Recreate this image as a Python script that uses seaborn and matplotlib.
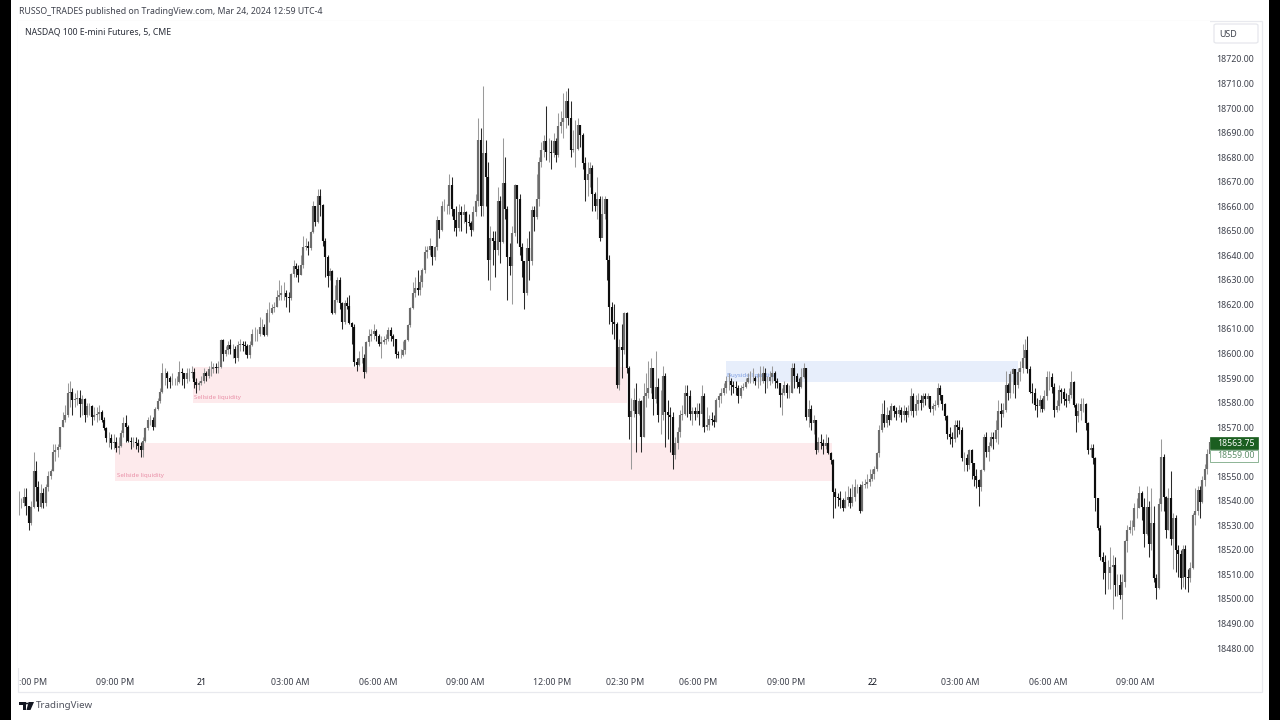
import numpy as np, pandas as pd
import matplotlib
matplotlib.use("Agg")
import matplotlib.pyplot as plt
import seaborn as sns
from matplotlib.patches import Rectangle, Polygon, FancyBboxPatch, Circle

closes = [
18539,18539,18541.5,18538,18531,18537.5,18552,18545.5,18537.5,18543,
18539,18545.5,18550,18552,18560,18560.5,18562,18570,18573,18575,
18584,18584.5,18581,18581.5,18582,18579.5,18581.5,18575,18578.5,18578.5,
18574,18575,18575.5,18576,18573,18569.5,18565.5,18565.5,18563.5,18564,
18561.5,18562.5,18567.5,18571.5,18570,18564.5,18564,18564,18563.5,18562.5,18560.5,
18564.5,18569.5,18573,18573,18570,18577.5,18580.5,18584.5,18592,18592,
18590,18588.5,18588.5,18588.5,18588.5,18592.5,18592,18589.5,18592,18592,
18592.5,18588.5,18587,18588,18589,18592,18591,18593.5,18593.5,18594.5,
18594,18594.5,18605.5,18600,18601.5,18603.5,18602,18602,18598,18603.5,
18604,18603.5,18603,18599.5,18603.5,18608,18608,18608,18611,18611,18607.5,
18616.5,18616.5,18618.5,18619,18623,18624,18624.5,18624.5,18623,18622.5,
18632.5,18635.5,18634.5,18632,18636,18643.5,18644,18643,18649.5,18660,
18653.5,18664,18660.5,18646,18639.5,18631.5,18633.5,18616.5,18622,18630,
18620.5,18613,18620.5,18619.5,18612.5,18611,18596.5,18595.5,18598,18598,
18592.5,18604.5,18607,18608,18609,18607,18604,18604.5,18605.5,18606,
18609.5,18607,18606,18600,18599.5,18599.5,18601.5,18605.5,18611.5,18618.5,
18624.5,18626.5,18626,18629,18634,18641.5,18642,18644,18639.5,18643.5,
18654.5,18650.5,18660,18660,18660,18668.5,18659,18654.5,18651,18657.5,
18656.5,18657.5,18653.5,18653,18650.5,18657.5,18662,18687,18660,18681.5,
18672,18638,18647,18646,18642,18662,18645.5,18669.5,18659,18639.5,
18635.5,18649,18668.5,18663,18643.5,18637.5,18624.5,18643,18637.5,18658.5,
18655.5,18663,18678,18683,18686.5,18682,18682,18681.5,18686.5,18681,18692.5,
18694.5,18696,18703,18696,18683,18683.5,18683.5,18693,18689,18677.5,
18670.5,18673,18675.5,18665,18660,18663,18647,18657,18663,18638,18619,
18613,18612,18587,18602.5,18601.5,18616.5,18594,18574,18576.5,18581,
18575.5,18580.5,18566,18582.5,18584,18586,18594,18581.5,18586.5,18575,
18575,18591,18576,18575,18574,18558.5,18563.5,18568,18575,18575.5,
18584,18582.5,18575.5,18576.5,18575.5,18576.5,18575.5,18582.5,18570,18571,
18573.5,18573,18572,18581,18582.5,18584,18586,18589,18589,18587,
18586.5,18586,18582.5,18586,18586.5,18588.5,18590,18590,18590,18589,
18589,18589,18592,18589,18589,18590.5,18592,18589,18588,18583,
18584,18587,18584,18584,18594,18591,18588.5,18586.5,18590.5,18594,
18574,18577.5,18571.5,18573,18560.5,18564,18563.5,18562.5,18563.5,18559.5,
18556.5,18543.5,18541.5,18541,18540.5,18537,18540.5,18541.5,18539,18541.5,
18545.5,18545.5,18536,18546.5,18547,18547.5,18549,18551,18553,18559.5,
18569,18575.5,18571.5,18575,18573,18578.5,18576.5,18575.5,18577,18575,
18576.5,18575,18576.5,18582.5,18576.5,18579.5,18581,18580,18582.5,18581.5,
18582.5,18577.5,18578.5,18579,18586,18583,18579.5,18574.5,18567,18566,
18565,18571,18570,18569,18557.5,18557.5,18554.5,18560.5,18555.5,18550,18548.5,
18545.5,18552.5,18566,18560,18562.5,18566,18565,18569,18576.5,18575.5,
18577,18587,18584,18591.5,18593.5,18587,18592.5,18594,18598,18601.5,
18593.5,18584.5,18584,18579,18578.5,18581,18577.5,18582.5,18590.5,18590.5,
18586.5,18577,18578.5,18585,18584.5,18581.5,18580.5,18583,18588.5,18579,
18574.5,18576.5,18579.5,18579.5,18571.5,18560.5,18561.5,18557.5,18541,18529,
18517,18515,18510.5,18510.5,18513,18514,18505.5,18505.5,18501.5,18507,
18523.5,18528,18529.5,18529.5,18537,18537,18543,18537.5,18526.5,18537.5,
18522.5,18531,18508.5,18504.5,18538.5,18558,18541.5,18528,18541,18524.5,
18533,18520,18518.5,18508.5,18520.5,18509,18508.5,18512.5,18534,18536,18544.5,
18539.5,18548.5,18553,18559,18563.75]

highs = [
18544,18541,18545,18545,18538,18540,18560,18556,18548,18547,
18545,18547,18552,18553,18563,18563,18563,18570,18576,18579,
18588,18589,18586,18584,18585,18585,18583,18582,18580,18580,
18579,18578,18578,18579,18577,18574,18570,18568,18567,18567,
18566,18566,18569,18574,18575,18571,18566,18566,18566,18565,18564,
18566,18570,18574,18575,18574,18578,18582,18586,18596,18594,
18593,18591,18592,18590,18591,18597,18594,18592,18594,18594,
18595,18594,18590,18589,18591,18594,18593,18595,18597,18596,
18596,18597,18606,18606,18603,18605,18606,18604,18603,18605,
18606,18605,18605,18604,18605,18610,18611,18610,18615,18614,18612,
18618,18621,18620,18621,18626,18630,18628,18629,18626,18625,
18633,18638,18637,18636,18640,18648,18647,18646,18650,18662,
18660,18667,18667,18661,18647,18640,18635,18634,18628,18631,
18631,18621,18622,18623,18624,18613,18612,18598,18601,18603,
18600,18605,18610,18610,18612,18610,18608,18607,18607,18608,
18611,18611,18608,18606,18601,18602,18605,18606,18612,18619,
18629,18631,18634,18632,18635,18644,18644,18647,18641,18644,
18656,18652,18662,18663,18661,18673,18672,18658,18660,18661,
18660,18661,18658,18657,18654,18660,18665,18696,18692,18709,
18687,18678,18652,18650,18650,18668,18664,18688,18680,18660,
18645,18652,18669,18664,18665,18645,18632,18647,18650,18660,
18660,18673,18680,18686,18689,18701,18688,18687,18690,18688,18698,
18699,18706,18707,18708,18703,18691,18695,18696,18693,18690,
18680,18678,18678,18677,18666,18672,18664,18664,18664,18655,18640,
18621,18620,18613,18606,18612,18617,18617,18595,18582,18586,
18588,18582,18581,18588,18592,18597,18598,18590,18601,18590,
18585,18595,18592,18581,18578,18576,18566,18570,18577,18579,
18587,18587,18585,18578,18578,18580,18580,18587,18584,18578,
18575,18576,18575,18582,18584,18586,18588,18591,18592,18590,
18589,18589,18587,18587,18588,18590,18592,18593,18594,18591,
18592,18595,18595,18594,18591,18593,18595,18593,18590,18588,
18586,18589,18588,18587,18596,18596,18592,18590,18594,18596,
18594,18581,18579,18575,18573,18566,18567,18565,18567,18566,
18560,18557,18545,18543,18544,18541,18544,18546,18545,18547,
18549,18547,18547,18548,18549,18551,18553,18553,18554,18560,
18571,18580,18581,18578,18577,18580,18579,18578,18579,18578,
18579,18578,18579,18586,18584,18583,18584,18583,18584,18584,
18584,18579,18580,18581,18588,18587,18583,18580,18575,18570,
18568,18573,18573,18573,18570,18560,18559,18561,18561,18552,18553,
18549,18553,18567,18568,18564,18568,18568,18573,18581,18580,
18580,18593,18588,18593,18594,18592,18594,18597,18604,18606,
18607,18595,18588,18586,18582,18583,18582,18585,18593,18593,
18592,18588,18581,18587,18586,18586,18584,18586,18593,18589,
18580,18580,18582,18582,18580,18572,18563,18563,18558,18541,
18530,18519,18518,18516,18521,18518,18517,18510,18510,18510,
18524,18530,18532,18532,18539,18541,18546,18544,18541,18546,
18540,18545,18538,18510,18541,18565,18559,18542,18545,18552,
18535,18534,18522,18520,18522,18522,18512,18515,18535,18545,18546,
18546,18550,18555,18561,18565]

lows = [
18534,18537,18538,18534,18528,18530,18537,18540,18536,18537,
18537,18538,18544,18549,18552,18556,18558,18561,18570,18572,
18574,18578,18575,18578,18579,18574,18575,18572,18574,18575,
18571,18573,18572,18573,18572,18569,18564,18562,18561,18561,
18560,18559,18562,18566,18564,18564,18561,18562,18561,18560,18558,
18558,18564,18569,18571,18569,18570,18577,18580,18584,18587,
18586,18586,18587,18587,18587,18588,18587,18586,18588,18589,
18590,18586,18584,18585,18587,18588,18589,18590,18591,18592,
18592,18592,18594,18597,18599,18600,18600,18598,18596,18597,
18601,18601,18600,18598,18598,18603,18605,18605,18607,18608,18607,
18607,18613,18616,18617,18619,18622,18622,18622,18619,18617,
18622,18631,18631,18629,18632,18635,18642,18640,18642,18649,
18652,18653,18656,18644,18631,18627,18630,18616,18616,18621,
18618,18610,18612,18618,18612,18604,18595,18593,18595,18596,
18590,18592,18603,18605,18606,18605,18603,18598,18604,18604,
18605,18605,18603,18598,18598,18598,18599,18600,18605,18611,
18618,18623,18624,18624,18627,18633,18639,18640,18636,18638,
18642,18647,18650,18658,18657,18657,18656,18650,18648,18650,
18650,18653,18649,18652,18648,18650,18656,18660,18656,18656,
18660,18630,18626,18636,18631,18640,18637,18645,18655,18622,
18632,18620,18648,18645,18640,18631,18618,18624,18630,18636,
18650,18655,18660,18676,18680,18679,18678,18675,18680,18678,18680,
18690,18688,18692,18693,18680,18682,18676,18683,18684,18675,
18662,18664,18668,18658,18658,18655,18646,18652,18655,18630,18612,
18608,18606,18586,18585,18590,18600,18592,18565,18553,18574,
18560,18575,18560,18566,18578,18582,18584,18575,18580,18572,
18567,18573,18562,18565,18560,18553,18557,18561,18566,18573,
18575,18574,18573,18571,18573,18574,18571,18570,18568,18569,
18569,18571,18570,18572,18578,18580,18583,18584,18585,18583,
18584,18583,18580,18582,18585,18586,18588,18588,18588,18587,
18586,18587,18588,18584,18586,18587,18588,18586,18586,18578,
18575,18583,18582,18582,18584,18586,18586,18584,18586,18590,
18573,18570,18569,18567,18559,18560,18561,18559,18561,18559,
18555,18533,18537,18538,18537,18536,18537,18538,18537,18538,
18540,18543,18535,18536,18545,18545,18546,18548,18549,18552,
18558,18568,18570,18570,18571,18573,18574,18573,18574,18572,
18573,18572,18574,18575,18574,18575,18577,18577,18578,18579,
18578,18576,18575,18577,18578,18581,18577,18573,18565,18563,
18562,18564,18566,18567,18556,18552,18552,18553,18549,18546,18545,
18538,18544,18552,18558,18556,18562,18561,18564,18563,18570,
18574,18576,18581,18582,18584,18582,18586,18589,18592,18594,
18592,18584,18580,18577,18574,18576,18576,18577,18581,18585,
18584,18574,18576,18577,18580,18579,18578,18580,18582,18578,
18568,18572,18573,18576,18569,18559,18558,18555,18536,18528,
18516,18508,18502,18504,18504,18496,18501,18501,18500,18492,
18505,18519,18527,18526,18528,18533,18537,18532,18521,18526,
18517,18520,18507,18500,18504,18536,18536,18525,18528,18522,
18512,18511,18509,18504,18505,18504,18503,18507,18512,18530,18534,
18533,18539,18546,18551,18558]

price_ticks = [18480, 18490, 18500, 18510, 18520, 18530, 18540, 18550, 18570, 18580, 18590,
               18600, 18610, 18620, 18630, 18640, 18650, 18660, 18670, 18680, 18690, 18700, 18710, 18720]
time_labels = [":00 PM", "09:00 PM", "21", "03:00 AM", "06:00 AM", "09:00 AM", "12:00 PM",
               "02:30 PM", "06:00 PM", "09:00 PM", "22", "03:00 AM", "06:00 AM", "09:00 AM"]
time_bars = [5.7, 39.5, 75.3, 111.5, 147.7, 183.5, 219.3, 249.4, 279.4, 315.6, 351.4, 387.2, 423.5, 459.3]
zone_names = ["Sellside liquidity", "Sellside liquidity", "Buyside liquidity"]
zone_left = [71.6, 39.7, 290.8]
zone_right = [250, 334.6, 411]
zone_top = [18594.5, 18563.5, 18597]
zone_bottom = [18579.8, 18548, 18588.5]
zone_fill = ["#fdeaec", "#fdeaec", "#e7eefb"]
zone_text = ["#e98ea6", "#e98ea6", "#7f9fe3"]

n = min(len(closes), len(highs), len(lows))
closes, highs, lows = closes[:n], highs[:n], lows[:n]
opens = [closes[0]] + closes[:-1]
bars = list(range(n))
dirs = ["up" if c >= o else "down" for o, c in zip(opens, closes)]

wick = pd.DataFrame({"bar": bars * 2, "price": highs + lows, "dir": dirs * 2})
body = pd.DataFrame({"bar": bars * 2, "price": opens + closes, "dir": dirs * 2})

sns.set_theme(style="white", font="Noto Sans")
W, H = 1280, 720
fig = plt.figure(figsize=(12.8, 7.2), dpi=100, facecolor="white")
def fx(x): return x / W
def fy(y): return 1 - y / H

L, R, T, B = 18.0, 1210.0, 21.0, 668.0
ax = fig.add_axes([fx(L), fy(B), (R - L) / W, (B - T) / H])
ax.set_facecolor("white")

for nm, a, b, t, bt, fc, tc in zip(zone_names, zone_left, zone_right, zone_top, zone_bottom, zone_fill, zone_text):
    ax.add_patch(Rectangle((a, bt), b - a, t - bt, facecolor=fc, edgecolor="none", zorder=1))
    ax.text(a + 0.5, bt + (t - bt) * (0.16 if nm.startswith("Sell") else 0.3), nm, color=tc, fontsize=4.4,
            va="center", ha="left", zorder=2)

sns.lineplot(data=wick, x="bar", y="price", units="bar", hue="dir", hue_order=["up", "down"],
             palette={"up": "#9a9a9a", "down": "#2a2a2a"}, estimator=None, sort=False,
             linewidth=0.75, legend=False, ax=ax, zorder=3, solid_capstyle="butt")
sns.lineplot(data=body, x="bar", y="price", units="bar", hue="dir", hue_order=["up", "down"],
             palette={"up": "#6c6c6c", "down": "#0d0d0d"}, estimator=None, sort=False,
             linewidth=1.55, legend=False, ax=ax, zorder=4, solid_capstyle="butt")

px_per_bar, px_per_pt = 2.43, 2.4542
ax.set_xlim((L - 19) / px_per_bar, (R - 19) / px_per_bar)
ax.set_ylim(18720 - (B - 59) / px_per_pt, 18720 + (59 - T) / px_per_pt)
ax.set_xlabel(""); ax.set_ylabel("")
for s in ax.spines.values():
    s.set_visible(False)
ax.grid(False)
ax.yaxis.tick_right()
ax.set_yticks(price_ticks)
ax.set_yticklabels([f"{p:.2f}" for p in price_ticks])
ax.set_xticks(time_bars)
ax.set_xticklabels(time_labels)
ax.tick_params(axis="y", length=0, pad=4.7, labelsize=6.4, labelcolor="#3f424d")
ax.tick_params(axis="x", length=0, pad=7, labelsize=6.4, labelcolor="#3f424d")
for lab in ax.get_xticklabels():
    if lab.get_text() in ("21", "22"):
        lab.set_fontweight("bold")
        lab.set_color("#131722")

fig.add_artist(Rectangle((fx(18), fy(692)), (1262 - 18) / W, (692 - 20.5) / H, transform=fig.transFigure,
                         fill=False, edgecolor="#e8e9ee", linewidth=0.9, zorder=0))
fig.add_artist(Rectangle((0, 0), fx(11), 1, transform=fig.transFigure, facecolor="black", edgecolor="none", zorder=10))
fig.add_artist(Rectangle((fx(1269), 0), fx(11), 1, transform=fig.transFigure, facecolor="black", edgecolor="none", zorder=10))

fig.text(fx(19), fy(11.5), "RUSSO_TRADES published on TradingView.com, Mar 24, 2024 12:59 UTC-4",
         fontsize=6.3, color="#3f424d", va="center", ha="left")
fig.text(fx(25), fy(32), "NASDAQ 100 E-mini Futures, 5, CME", fontsize=6.25, color="#2a2e39", va="center", ha="left")

fig.add_artist(FancyBboxPatch((fx(1214), fy(43)), 44 / W, 19 / H, boxstyle="round,pad=0,rounding_size=0.002",
                              transform=fig.transFigure, facecolor="white", edgecolor="#e6e7ec", linewidth=0.9))
fig.text(fx(1228), fy(34.5), "USD", fontsize=6.4, color="#3f424d", va="center", ha="center")

fig.add_artist(Rectangle((fx(1210), fy(449)), 47.5 / W, 12.5 / H, transform=fig.transFigure,
                         facecolor="#1b5e20", edgecolor="#1b5e20", linewidth=0.5, zorder=6))
fig.text(fx(1217), fy(443), "18563.75", fontsize=6.3, color="white", fontweight="bold", va="center", ha="left", zorder=7)
fig.add_artist(Rectangle((fx(1210), fy(462)), 47.5 / W, 12.5 / H, transform=fig.transFigure,
                         facecolor="white", edgecolor="#7ba884", linewidth=0.6, zorder=6))
fig.text(fx(1217), fy(456), "18559.00", fontsize=6.3, color="#5f8f6a", va="center", ha="left", zorder=7)

def poly(pts):
    fig.add_artist(Polygon([(fx(x), fy(y)) for x, y in pts], closed=True, transform=fig.transFigure,
                           facecolor="#131722", edgecolor="none"))
poly([(19, 702), (25.5, 702), (25.5, 710), (22.5, 710), (22.5, 705), (19, 705)])
poly([(28.5, 702), (34, 702), (30.5, 710), (26.5, 710)])
fig.add_artist(Circle((fx(26.8), fy(703.5)), 1.5 / W, transform=fig.transFigure, facecolor="#131722", edgecolor="none"))
fig.text(fx(36), fy(706), "TradingView", fontsize=7.0, color="#50535e", va="center", ha="left")

fig.savefig("out.png", dpi=100)
